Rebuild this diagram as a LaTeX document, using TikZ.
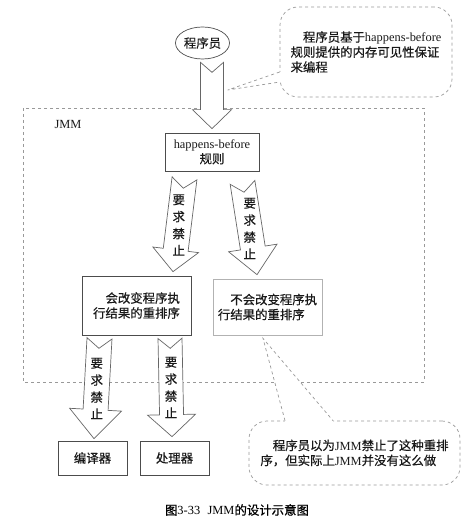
\documentclass[tikz,border=0pt]{standalone}
\usepackage{fontspec}
\setmainfont{Liberation Serif}
\newfontfamily\cjk[FakeBold=0.6]{Noto Sans CJK SC}
\newfontfamily\cjkb[FakeBold=0.9]{Noto Sans CJK SC}
\newcommand\zh[1]{{\cjk #1}}
\usetikzlibrary{calc,shapes.geometric}

% hollow arrow with notched tail: tail, tip, half shaft, half head, head length, label
\newcommand\fatarrow[6]{%
  \coordinate (fa-h) at ($(#2)!#5pt!(#1)$);
  \coordinate (fa-n) at ($(#1)!10pt!(#2)$);
  \draw[fat arrow] ($(#1)!#3pt!90:(#2)$) -- (fa-n) -- ($(#1)!#3pt!-90:(#2)$)
    -- ($(fa-h)!#3pt!-90:(#2)$) -- ($(fa-h)!#4pt!-90:(#2)$) -- (#2)
    -- ($(fa-h)!#4pt!90:(#2)$) -- ($(fa-h)!#3pt!90:(#2)$) -- cycle;
  \node[arrow text] at ($(#1)!0.5!(#2)$) {#6};
}

\begin{document}
\begin{tikzpicture}[x=1pt, y=-1pt, line width=0.7pt,
    every node/.style={text=black!90, font=\fontsize{12.4}{15}\selectfont},
    zh/.style={font=\cjk\fontsize{12.4}{15}\selectfont},
    main node/.style={draw=black!70, inner sep=0pt, align=center},
    note/.style={draw=black!40, dashed, rounded corners=18pt, inner sep=0pt, align=left},
    fat arrow/.style={draw=black!60, fill=white, line join=miter},
    arrow text/.style={font=\cjk\fontsize{12.4}{17}\selectfont, align=center, inner sep=0pt},
    dash line/.style={draw=black!40, dashed}]

  \useasboundingbox (0,0) rectangle (474,526);

  % JMM frame
  \draw[dash line] (23,108) rectangle (424,382);
  \node (jmm) at (68,125) {JMM};

  \node[main node, zh, ellipse, minimum width=54pt, minimum height=32pt] (1) at (202.5,43) {程序员};
  \node[main node, minimum width=94pt, minimum height=38pt] (2) at (212,152) {happens-before\\\zh{规则}};
  \node[main node, zh, align=left, minimum width=109pt, minimum height=59pt] (3) at (136.5,305.5)
    {\hspace*{1em}会改变程序执\\行结果的重排序};
  \node[main node, zh, align=left, draw=black!30, minimum width=109pt, minimum height=56pt] (4) at (267.5,307)
    {\hspace*{1em}不会改变程序执\\行结果的重排序};
  \node[main node, zh, minimum width=69pt, minimum height=34pt] (5) at (92.5,458) {编译器};
  \node[main node, zh, minimum width=69pt, minimum height=34pt] (6) at (174.5,458) {处理器};

  % notes
  \node[note, minimum width=172pt, minimum height=90pt] (7) at (366,52)
    {\hspace*{1em}\zh{程序员基于}happens-before\\\zh{规则提供的内存可见性保证}\\\zh{来编程}};
  \node[note, minimum width=211pt, minimum height=64pt] (8) at (354.5,453)
    {\hspace*{1em}\zh{程序员以为}JMM\zh{禁止了这种重排}\\\zh{序，但实际上}JMM\zh{并没有这么做}};

  \node[text=black] (cap) at (237,510)
    {{\cjkb 图}3-33\hspace{0.6em}JMM{\cjkb 的设计示意图}};

  % arrows
  \coordinate (a0) at ($(2.north |- 1.south)+(0,3)$);
  \coordinate (b0) at ($(2.north)+(0,-4)$);
  \fatarrow{a0}{b0}{11.5}{19.5}{19}{}
  \coordinate (a1) at ($(2.south)+(-27.5,7)$);
  \coordinate (b1) at ($(3.north)+(36.5,-4)$);
  \fatarrow{a1}{b1}{12.5}{23}{22}{要\\求\\禁\\止}
  \coordinate (a2) at ($(2.south)+(30.5,11)$);
  \coordinate (b2) at ($(4.north)+(-10.5,-4)$);
  \fatarrow{a2}{b2}{12.5}{24.5}{27}{要\\求\\禁\\止}
  \coordinate (a3) at ($(3.south)+(-37,3)$);
  \coordinate (b3) at ($(5.north)+(1.5,-2)$);
  \fatarrow{a3}{b3}{12.5}{26}{29}{要\\求\\禁\\止}
  \coordinate (a4) at ($(3.south)+(33.5,3)$);
  \coordinate (b4) at ($(6.north)+(-2.5,-4)$);
  \fatarrow{a4}{b4}{12}{24}{22}{要\\求\\禁\\止}

  % note pointers
  \coordinate (t7) at ($(7.west)+(-52,38)$);
  \coordinate (p7a) at ($(7.west)+(0,20)$);
  \coordinate (p7b) at ($(7.west)+(0.3,30)$);
  \fill[white] (p7a) -- (t7) -- (p7b) -- ($(p7b)+(2,0)$) -- ($(p7a)+(2,0)$) -- cycle;
  \draw[dash line] (p7a) -- (t7) -- (p7b);
  \coordinate (t8) at ($(4.south)+(-4.5,3)$);
  \coordinate (p8a) at ($(8.north)+(-69.5,0)$);
  \coordinate (p8b) at ($(8.north)+(-21.5,0)$);
  \fill[white] (p8a) -- (t8) -- (p8b) -- ($(p8b)+(0,2)$) -- ($(p8a)+(0,2)$) -- cycle;
  \draw[dash line] (p8a) -- (t8) -- (p8b);
\end{tikzpicture}
\end{document}
